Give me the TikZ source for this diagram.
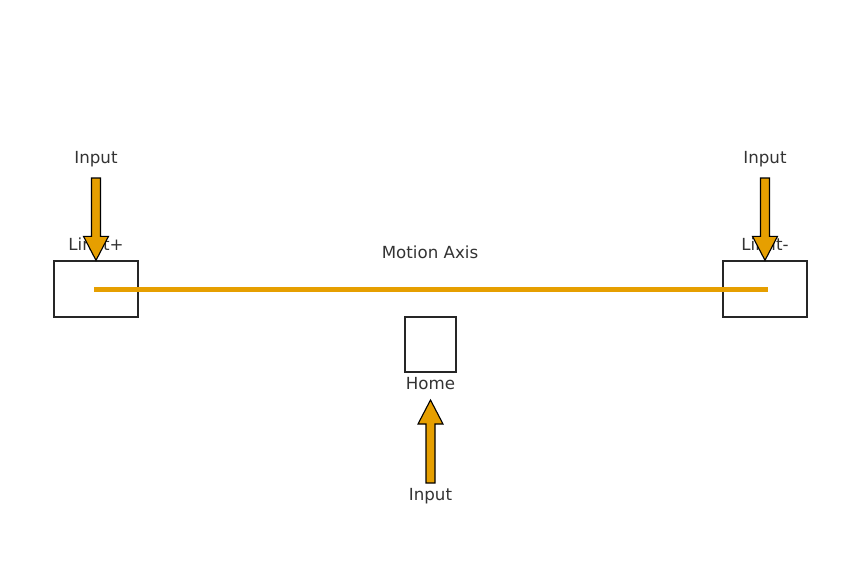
\documentclass[tikz,border=0pt]{standalone}
\usepackage{fontspec}
\setmainfont{DejaVu Sans}
\usetikzlibrary{positioning, calc}
\definecolor{axisorange}{HTML}{E69F00}
\definecolor{labelgray}{HTML}{333333}
\tikzstyle{switchbox} = [rectangle, draw=black!85, line width=1pt, fill=none, inner sep=0pt]
\tikzstyle{label} = [text=labelgray, font=\fontsize{12}{14}\selectfont, inner sep=0pt]
\tikzstyle{axisline} = [draw=axisorange, line width=3.6pt]
\tikzstyle{inarrow} = [draw=black, fill=axisorange, line width=0.8pt, line join=miter]
% fat arrow from #1 (tail) to #2 (tip)
\newcommand{\inputarrow}[2]{%
  \path ($(#2)!17.28pt!(#1)$) coordinate (hd);
  \draw[inarrow] ($(#1)!3.24pt!90:(#2)$) -- ($(hd)!3.24pt!90:(#2)$) -- ($(hd)!9pt!90:(#2)$)
    -- (#2) -- ($(hd)!9pt!-90:(#2)$) -- ($(hd)!3.24pt!-90:(#2)$) -- ($(#1)!3.24pt!-90:(#2)$) -- cycle;}
\begin{document}
\begin{tikzpicture}[x=0.72pt, y=-0.72pt]
  \useasboundingbox (0,0) rectangle (860,578);

  % Limit switches and home
  \node (limp) at (96,289) [switchbox, minimum width=60.5pt, minimum height=40.3pt] {};
  \node (limm) at (765,289) [switchbox, minimum width=60.5pt, minimum height=40.3pt] {};
  \node (home) at (430.5,344.5) [switchbox, minimum width=36.7pt, minimum height=39.6pt] {};

  % Motion axis
  \coordinate (axl) at (94,289);
  \coordinate (axr) at (768,289);
  \draw[axisline] (axl) -- (axr);

  % Labels
  \node (axlab) at (430,252) [label] {Motion Axis};
  \node (limplab) at (96,244.5) [label] {Limit+};
  \node (limmlab) at (765,244.5) [label] {Limit-};
  \node (homelab) at (430.5,384) [label] {Home};
  \node (inl) at (96,159) [label] {Input};
  \node (inr) at (765,159) [label] {Input};
  \node (inh) at (430.5,496) [label] {Input};

  % Input arrows
  \coordinate (inlt) at (96,178);
  \coordinate (inrt) at (765,178);
  \coordinate (inht) at (430.5,483);
  \coordinate (homet) at (430.5,400);
  \inputarrow{inlt}{limp.north}
  \inputarrow{inrt}{limm.north}
  \inputarrow{inht}{homet}

\end{tikzpicture}
\end{document}
